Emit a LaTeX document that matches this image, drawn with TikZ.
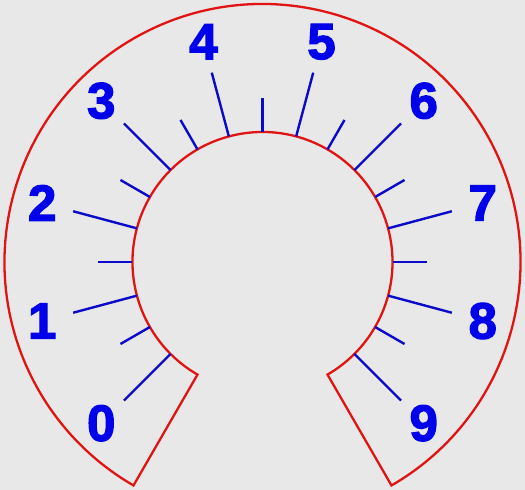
\documentclass[tikz,border=0pt]{standalone}
\usepackage{fontspec}
\newfontface\digitfont[FakeBold=2.5]{Liberation Sans Bold}
\definecolor{bg}{RGB}{232,232,232}
\definecolor{rimred}{RGB}{225,20,20}
\definecolor{tickblue}{RGB}{10,10,200}
\definecolor{digblue}{RGB}{0,0,235}
\begin{document}
\begin{tikzpicture}[x=1pt,y=1pt,
  rim/.style={draw=rimred,line width=2.3pt,line join=miter},
  tickline/.style={draw=tickblue,line width=2.4pt},
  digit/.style={text=digblue,font=\digitfont\fontsize{51}{51}\selectfont,inner sep=0pt}]
\fill[bg] (-262.5,-228) rectangle (262.5,262);
\useasboundingbox (-262.5,-228) rectangle (262.5,262);
\path[rim] (-60:258) arc[start angle=-60,end angle=240,radius=258]
  -- (240:130) arc[start angle=240,end angle=-60,radius=130] -- cycle;
\foreach \i in {0,...,9}{
  \pgfmathsetmacro{\a}{225-30*\i}
  \draw[tickline] (\a:130) -- (\a:196);
  \node[digit] (d\i) at (\a:228) {\i};
}
\foreach \j in {0,...,8}{
  \pgfmathsetmacro{\b}{210-30*\j}
  \draw[tickline] (\b:130) -- (\b:164);
}
\end{tikzpicture}
\end{document}
